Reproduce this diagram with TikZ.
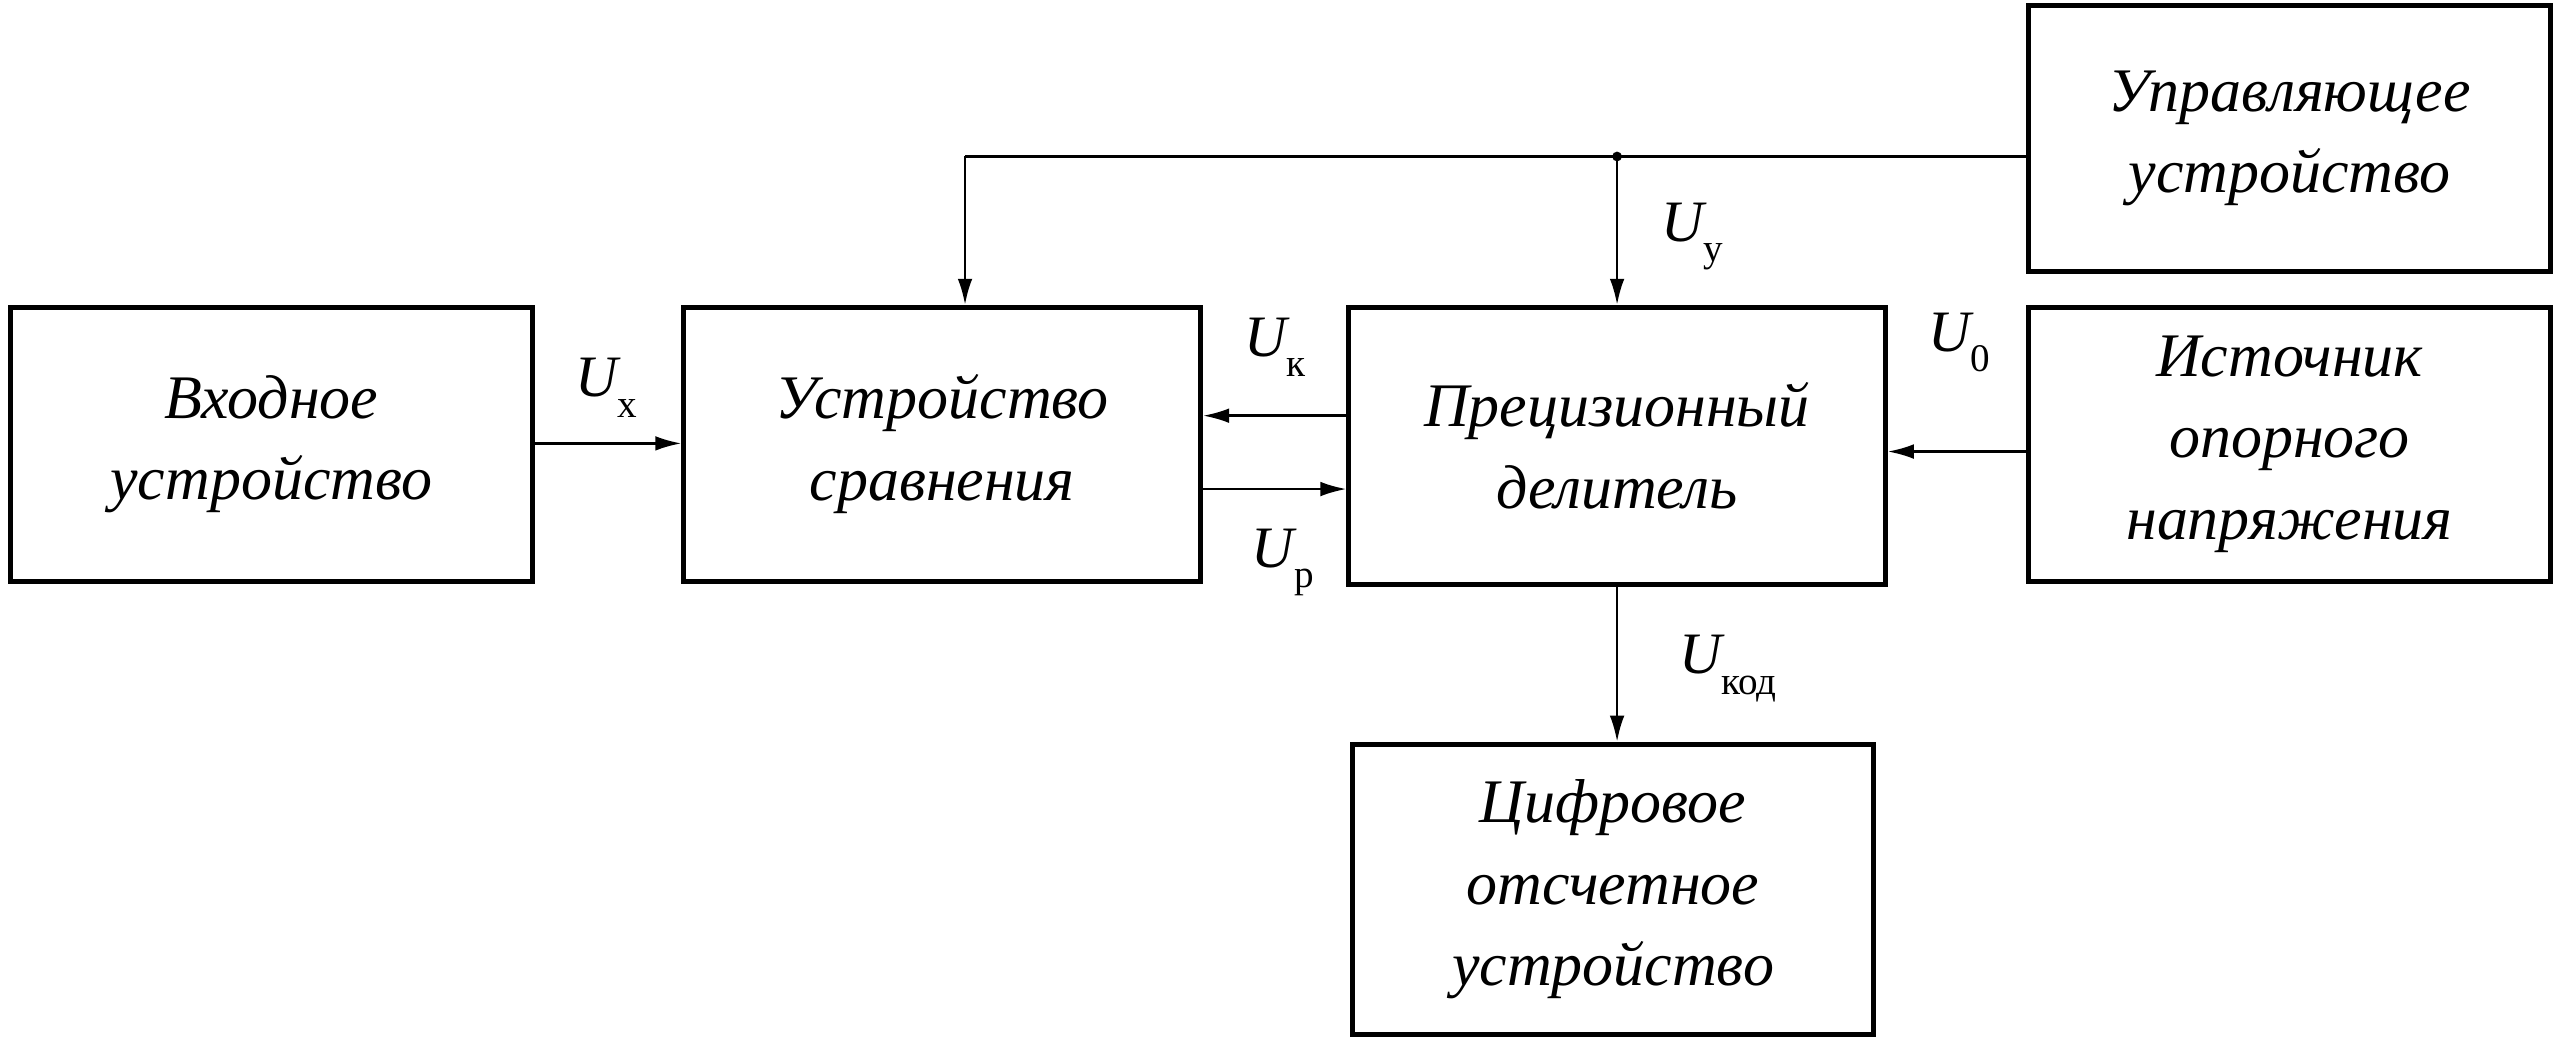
\documentclass[tikz,border=0pt]{standalone}
\usepackage{fontspec}
\setmainfont{Liberation Serif}
\usetikzlibrary{arrows.meta}
\newcommand{\sbs}[1]{\raisebox{-0.35em}{\fontsize{24}{26}\selectfont\upshape #1}}
\begin{document}
\begin{tikzpicture}[x=1pt,y=-1pt,
  blk/.style={draw,line width=3pt,anchor=north west,align=center,font=\fontsize{38}{50}\selectfont\itshape},
  con/.style={line width=1.5pt,-{Latex[length=16pt,width=9pt]}},
  lbl/.style={font=\fontsize{36}{40}\selectfont\itshape}]
\useasboundingbox (0,0) rectangle (1568,638);
\node[blk,minimum width=320,minimum height=168] (in) at (5,187) {Входное\\устройство};
\node[blk,minimum width=317,minimum height=168] (cmp) at (418,187) {Устройство\\сравнения};
\node[blk,minimum width=329,minimum height=170] (div) at (826,187) {Прецизионный\\делитель};
\node[blk,minimum width=320,minimum height=168] (src) at (1243,187) {Источник\\опорного\\напряжения};
\node[blk,minimum width=320,minimum height=163] (ctl) at (1243,2) {Управляющее\\устройство};
\node[blk,minimum width=320,minimum height=178] (dig) at (828,455) {Цифровое\\отсчетное\\устройство};
\coordinate (j) at (992,96);
\coordinate (l) at (592,96);
\draw[line width=1.5pt] (ctl.west |- j) -- (l);
\fill (j) circle (3pt);
\draw[con] (l) -- (l |- cmp.north);
\draw[con] (j) -- (j |- div.north);
\draw[con] (in.east |- 0,272) -- (cmp.west |- 0,272);
\draw[con] (div.west |- 0,255) -- (cmp.east |- 0,255);
\draw[con] (cmp.east |- 0,300) -- (div.west |- 0,300);
\draw[con] (src.west |- 0,277) -- (div.east |- 0,277);
\draw[con] (div.south -| j) -- (dig.north -| j);
\node[lbl] (ux) at (372,238) {U\sbs{x}};
\node[lbl] (uy) at (1038,145) {U\sbs{у}};
\node[lbl] (uk) at (782,213) {U\sbs{к}};
\node[lbl] (up) at (787,345) {U\sbs{р}};
\node[lbl] (u0) at (1202,210) {U\sbs{0}};
\node[lbl] (ukod) at (1060,410) {U\sbs{код}};
\end{tikzpicture}
\end{document}
